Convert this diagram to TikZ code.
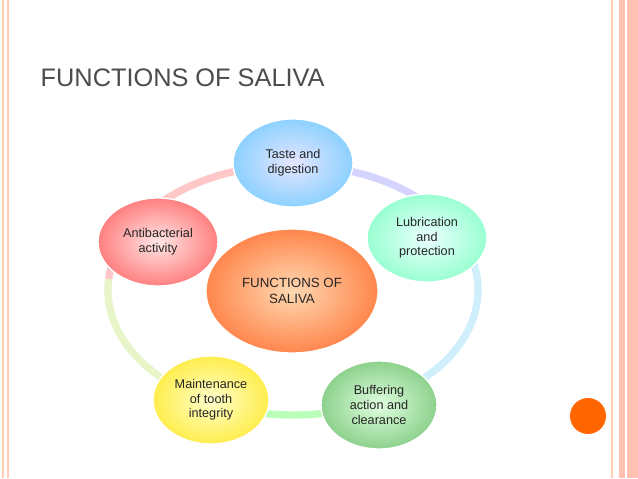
\documentclass[tikz,border=0pt]{standalone}
\usetikzlibrary{shapes.geometric}
\usepackage{fontspec}
\setmainfont{Liberation Sans}
\begin{document}
\begin{tikzpicture}[x=0.75pt,y=-0.75pt,
 bub/.style={ellipse,draw=white,line width=1pt,minimum width=90pt,minimum height=66pt,inner sep=0pt,align=center,font=\fontsize{9.5}{11}\selectfont,text=black!85},
 ringseg/.style={line width=5.5pt,opacity=0.55}]
\useasboundingbox (0,0) rectangle (638,478);
\fill[white] (0,0) rectangle (638,478);
\draw[red!30!orange!30,line width=1pt] (3,0)--(3,478);
\draw[red!30!orange!30,line width=1pt] (8,0)--(8,478);
\draw[red!30!orange!30,line width=1pt] (612,0)--(612,478);
\fill[orange!40!red!30] (619,0) rectangle (638,478);
\draw[white,line width=1pt] (626,0)--(626,478);
\fill[orange!80!red] (588,416) circle (18);
\node[anchor=west,font=\fontsize{19}{21}\selectfont,text=black!70] (title) at (36,78) {FUNCTIONS OF SALIVA};
% ring
\begin{scope}[shift={(293,290)}]
\draw[ringseg,red!40] (-90:185 and 125) arc (-90:-175:185 and 125);
\draw[ringseg,blue!30] (-90:185 and 125) arc (-90:-20:185 and 125);
\draw[ringseg,cyan!35] (-20:185 and 125) arc (-20:60:185 and 125);
\draw[ringseg,green!50] (60:185 and 125) arc (60:120:185 and 125);
\draw[ringseg,yellow!60!green!40] (120:185 and 125) arc (120:185:185 and 125);
\end{scope}
\node[bub,minimum width=129pt,minimum height=93pt,shade,inner color=orange!30,outer color=orange!65!red!70,font=\fontsize{10}{12}\selectfont] (c) at (292,291) {FUNCTIONS OF\\SALIVA};
\node[bub,shade,inner color=blue!10,outer color=blue!40!cyan!45] (t) at (293,163) {Taste and\\digestion};
\node[bub,shade,inner color=cyan!8,outer color=cyan!55!green!40] (l) at (427,238) {Lubrication\\and\\protection};
\node[bub,minimum width=87pt,shade,inner color=green!12,outer color=green!60!black!45] (b) at (379,405) {Buffering\\action and\\clearance};
\node[bub,minimum width=87pt,shade,inner color=yellow!20,outer color=yellow!80!orange!70] (m) at (211,400) {Maintenance\\of tooth\\integrity};
\node[bub,shade,inner color=red!10,outer color=red!50] (a) at (158,242) {Antibacterial\\activity};
\end{tikzpicture}
\end{document}
